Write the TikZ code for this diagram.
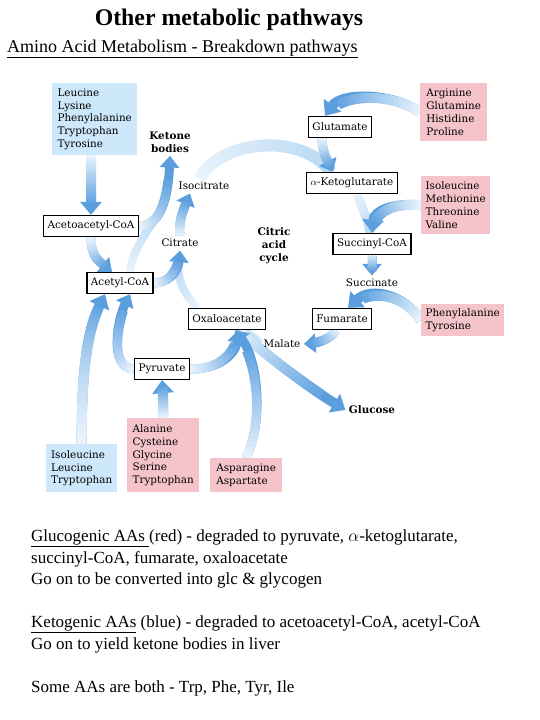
\documentclass[tikz,border=0pt]{standalone}
\usepackage{fontspec}
\setmainfont{Liberation Serif}
\newfontfamily\dgmfont{DejaVu Serif}
\usetikzlibrary{arrows.meta}
\definecolor{ketofill}{HTML}{CDE8FA}
\definecolor{glucofill}{HTML}{F5C4CB}
\definecolor{flowdark}{HTML}{5A9EDE}
\definecolor{flowmid}{HTML}{B7D8F3}
\definecolor{flowpale}{HTML}{E8F3FC}
\pgfdeclarelayer{background}
\pgfsetlayers{background,main}
\tikzset{
  aalist/.style={anchor=north west,align=left,inner xsep=4pt,inner ysep=3pt,font=\dgmfont\fontsize{10.4}{12.8}\selectfont},
  keto/.style={aalist,fill=ketofill},
  gluco/.style={aalist,fill=glucofill},
  stepbox/.style={draw,line width=1.3pt,fill=white,inner xsep=4pt,inner ysep=2pt,minimum height=21pt,font=\dgmfont\fontsize{10.4}{12}\selectfont},
  metab/.style={font=\dgmfont\fontsize{10.4}{12}\selectfont},
  hilite/.style={align=center,font=\dgmfont\bfseries\fontsize{10.4}{12.8}\selectfont},
}
% shaded flow with a head: start, control, control, end
\newcommand\flow[5][9pt]{%
  \path #2 coordinate (q0) #3 coordinate (q1) #4 coordinate (q2) #5 coordinate (q3);
  \draw[line width=#1,flowdark,-{Triangle[width=0pt 2.1,length=0pt 1.3]}] (q0) .. controls (q1) and (q2) .. (q3);
  \foreach \i in {0,...,23}{%
    \pgfmathsetmacro\ta{0.033*\i}%
    \pgfmathsetmacro\tb{0.033*\i+0.045}%
    \pgfmathtruncatemacro\sh{4*\i}%
    \begin{pgfscope}
      \pgfsetlinewidth{#1}\pgfsetbuttcap
      \pgfsetstrokecolor{flowdark!\sh!flowpale}
      \pgfpathcurvebetweentime{\ta}{\tb}{\pgfpointanchor{q0}{center}}{\pgfpointanchor{q1}{center}}{\pgfpointanchor{q2}{center}}{\pgfpointanchor{q3}{center}}
      \pgfusepath{stroke}
    \end{pgfscope}}}
% pale flow without a head
\newcommand\paleflow[5][9pt]{%
  \path #2 coordinate (q0) #3 coordinate (q1) #4 coordinate (q2) #5 coordinate (q3);
  \foreach \i in {0,...,24}{%
    \pgfmathsetmacro\ta{0.04*\i}%
    \pgfmathsetmacro\tb{min(1,0.04*\i+0.055)}%
    \pgfmathtruncatemacro\sh{4*\i}%
    \begin{pgfscope}
      \pgfsetlinewidth{#1}\pgfsetbuttcap
      \pgfsetstrokecolor{flowmid!\sh!flowpale}
      \pgfpathcurvebetweentime{\ta}{\tb}{\pgfpointanchor{q0}{center}}{\pgfpointanchor{q1}{center}}{\pgfpointanchor{q2}{center}}{\pgfpointanchor{q3}{center}}
      \pgfusepath{stroke}
    \end{pgfscope}}}
\begin{document}
\begin{tikzpicture}[x=1pt,y=-1pt]
\useasboundingbox (0,0) rectangle (540,720);
\node[font=\bfseries\fontsize{23.8}{28}\selectfont] (title) at (229,20) {Other metabolic pathways};
\node[anchor=base west,inner sep=0pt,font=\fontsize{18}{21}\selectfont] (subtitle) at (7,52) {\underline{Amino Acid Metabolism - Breakdown pathways}};
% amino acid groups
\node[keto,minimum width=85pt,minimum height=72pt] (ketoTop) at (52,83) {Leucine\\Lysine\\Phenylalanine\\Tryptophan\\Tyrosine};
\node[keto,minimum width=71pt,minimum height=48pt] (ketoLow) at (46,444) {Isoleucine\\Leucine\\Tryptophan};
\node[gluco,minimum width=67pt,minimum height=58pt] (argBox) at (420,83) {Arginine\\Glutamine\\Histidine\\Proline};
\node[gluco,minimum width=69pt,minimum height=58pt] (ileBox) at (421,176) {Isoleucine\\Methionine\\Threonine\\Valine};
\node[gluco,minimum width=83pt,minimum height=32pt] (pheBox) at (421,304) {Phenylalanine\\Tyrosine};
\node[gluco,minimum width=72pt,minimum height=74pt] (alaBox) at (127,418) {Alanine\\Cysteine\\Glycine\\Serine\\Tryptophan};
\node[gluco,minimum width=72pt,minimum height=34pt] (asnBox) at (210,458) {Asparagine\\Aspartate};
% intermediates
\node[stepbox] (acac) at (91,226) {Acetoacetyl-CoA};
\node[stepbox] (acetyl) at (120,283) {Acetyl-CoA};
\node[stepbox] (pyr) at (162,369) {Pyruvate};
\node[stepbox] (oaa) at (227,319) {Oxaloacetate};
\node[stepbox] (fum) at (342,319) {Fumarate};
\node[stepbox] (succoa) at (372,244) {Succinyl-CoA};
\node[stepbox] (akg) at (352,183) {$\alpha$-Ketoglutarate};
\node[stepbox] (glu) at (340,127) {Glutamate};
\node[metab] (isocit) at (204,186) {Isocitrate};
\node[metab] (citrate) at (180,243) {Citrate};
\node[metab] (succinate) at (372,283) {Succinate};
\node[metab] (malate) at (282,344) {Malate};
\node[hilite] (ketone) at (170,142) {Ketone\\bodies};
\node[hilite] (cac) at (274,246) {Citric\\acid\\cycle};
\node[hilite] (glucose) at (372,410) {Glucose};
\begin{pgfonlayer}{background}
\paleflow[8pt]{([xshift=10pt]acetyl.north)}{(132,250)}{(148,230)}{(160,212)}
\paleflow[8pt]{([xshift=-30pt]oaa.north)}{(185,295)}{(178,282)}{(178,265)}
\paleflow[12pt]{([xshift=-4pt]isocit.north)}{(218,142)}{(298,130)}{([xshift=25pt]akg.north west)}
\paleflow{([xshift=5pt]akg.south)}{(362,208)}{(368,218)}{([xshift=-2pt]succoa.north)}
\paleflow[8pt]{(malate.west)}{(262,343)}{(252,337)}{([xshift=16pt]oaa.south)}
\flow[10pt]{(acac.north |- ketoTop.south)}{(91,175)}{(91,195)}{(acac.north)}
\flow{(acac.east)}{(160,226)}{(168,200)}{(ketone.south)}
\flow{(acac.south)}{(91,258)}{(100,262)}{([xshift=-8pt]acetyl.north)}
\flow{(acetyl.east)}{(168,283)}{(178,272)}{(citrate.south)}
\flow{(citrate.north)}{(178,222)}{(184,208)}{([xshift=-14pt]isocit.south)}
\flow{([xshift=-18pt]glu.south)}{(322,152)}{(328,162)}{([xshift=27pt]akg.north west)}
\flow[10pt]{(argBox.west)}{(392,93)}{(342,92)}{([xshift=-15pt]glu.north)}
\flow[10pt]{(ileBox.west)}{(395,203)}{(374,210)}{(succoa.north)}
\flow{(succoa.south)}{(372,262)}{(372,268)}{(succinate.north)}
\flow[10pt]{(pheBox.west)}{(405,296)}{(372,286)}{([xshift=6pt]fum.north)}
\flow{([xshift=-6pt]fum.south)}{(332,338)}{(318,343)}{(malate.east)}
\flow[10pt]{([xshift=12pt]oaa.south)}{(262,352)}{(305,385)}{(glucose.west)}
\flow{(pyr.east)}{(215,370)}{(236,356)}{([xshift=11pt]oaa.south)}
\flow{(asnBox.north)}{(264,420)}{(258,360)}{([xshift=8pt]oaa.south)}
\flow{(pyr.west)}{(108,368)}{(118,318)}{([xshift=10pt]acetyl.south)}
\flow[10pt]{(ketoLow.north)}{(81,340)}{(95,315)}{([xshift=-15pt]acetyl.south)}
\flow[10pt]{(alaBox.north)}{(163,405)}{(163,392)}{(pyr.south)}
\end{pgfonlayer}
\node[anchor=base west,align=left,inner sep=0pt,font=\fontsize{17}{21.5}\selectfont] (notes) at (31,692)
  {\underline{Glucogenic AAs\ }(red) - degraded to pyruvate, $\alpha$-ketoglutarate,\\
   succinyl-CoA, fumarate, oxaloacetate\\
   Go on to be converted into glc \& glycogen\\[21.5pt]
   \underline{Ketogenic AAs} (blue) - degraded to acetoacetyl-CoA, acetyl-CoA\\
   Go on to yield ketone bodies in liver\\[21.5pt]
   Some AAs are both - Trp, Phe, Tyr, Ile};
\end{tikzpicture}
\end{document}
